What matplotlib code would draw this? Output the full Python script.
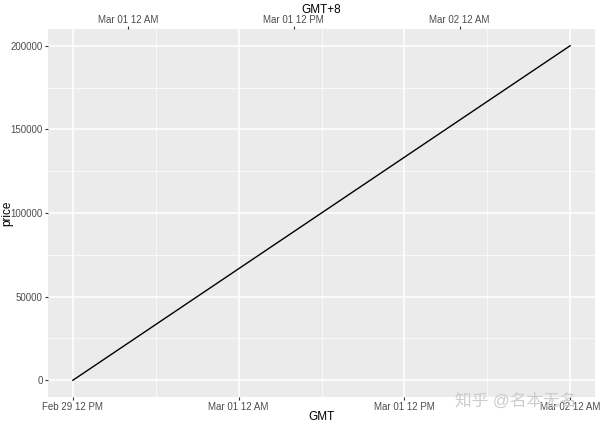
import matplotlib.pyplot as plt
import matplotlib.dates as mdates
import numpy as np
from datetime import datetime

# ---------- data ---------------------
times = [datetime(2024, 2, 29, 12), datetime(2024, 3, 2, 0)]
price = [0, 200000]
offset_hours = 8
bottom_ticks = [datetime(2024, 2, 29, 12), datetime(2024, 3, 1, 0),
                datetime(2024, 3, 1, 12), datetime(2024, 3, 2, 0)]
bottom_labels = ["Feb 29 12 PM", "Mar 01 12 AM", "Mar 01 12 PM", "Mar 02 12 AM"]
top_ticks = [datetime(2024, 3, 1, 0), datetime(2024, 3, 1, 12), datetime(2024, 3, 2, 0)]
top_labels = ["Mar 01 12 AM", "Mar 01 12 PM", "Mar 02 12 AM"]
y_ticks = [0, 50000, 100000, 150000, 200000]

plt.rcParams['font.family'] = ['Liberation Sans', 'Noto Sans CJK SC', 'DejaVu Sans']

fig = plt.figure(figsize=(6, 4.24), dpi=100)
ax = fig.add_axes([48/600, 1 - 397/424, (595-48)/600, (397-29)/424])
ax.set_facecolor('#ebebeb')

tn = mdates.date2num(times)
ax.plot(tn, price, color='black', linewidth=1.0, zorder=3)

span = tn[1] - tn[0]
ax.set_xlim(tn[0] - 0.05*span, tn[1] + 0.05*span)
ax.set_ylim(-0.05*200000, 1.05*200000)

bt = mdates.date2num(bottom_ticks)
ax.set_xticks(bt)
ax.set_xticklabels(bottom_labels)
ax.set_xticks((bt[:-1] + bt[1:]) / 2, minor=True)
ax.set_yticks(y_ticks)
ax.set_yticklabels([str(v) for v in y_ticks])
ax.set_yticks(np.array(y_ticks[:-1]) + 25000, minor=True)

ax.grid(which='major', color='white', linewidth=1.1)
ax.grid(which='minor', color='white', linewidth=0.5)
ax.set_axisbelow(True)
for s in ax.spines.values():
    s.set_visible(False)

ax.tick_params(which='major', length=2.2, color='#333333', labelsize=7, labelcolor='#4d4d4d', pad=1.5)
ax.tick_params(which='minor', length=0)

off = offset_hours / 24.0
sec = ax.secondary_xaxis('top', functions=(lambda x: x + off, lambda x: x - off))
sec.set_xticks(mdates.date2num(top_ticks))
sec.set_xticklabels(top_labels)
sec.tick_params(length=2.2, color='#333333', labelsize=7, labelcolor='#4d4d4d', pad=0.6)
sec.spines['top'].set_visible(False)
sec.set_xlabel("GMT+8", fontsize=8.5, labelpad=1.2)

ax.set_xlabel("GMT", fontsize=8.5, va='center')
ax.xaxis.set_label_coords(0.5, (397 - 417) / 368)
ax.set_ylabel("price", fontsize=8.5, va='center')
ax.yaxis.set_label_coords((7 - 48) / 547, 0.5)

fig.text(455/600, 1 - 401/424, "知乎 @名本无名", fontsize=12, color='#cccccc',
         va='center', ha='left')

fig.savefig('out.png', dpi=100)
